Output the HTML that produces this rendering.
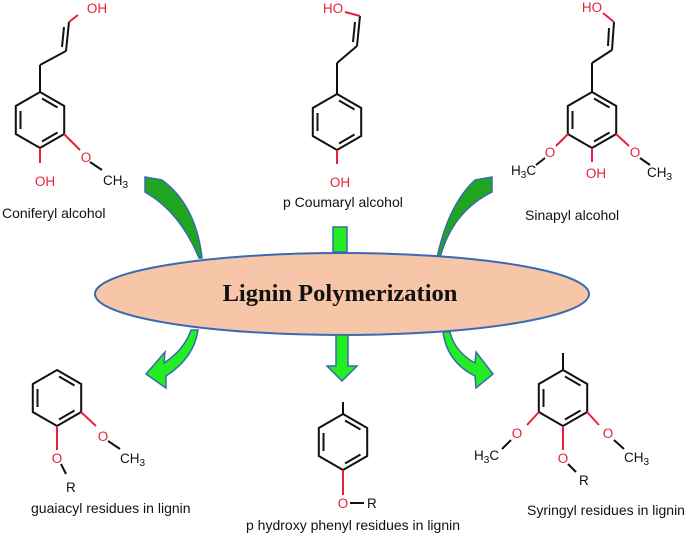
<!DOCTYPE html>
<html><head><meta charset="utf-8"><style>
html,body{margin:0;padding:0;background:#fff}
svg{display:block}
text{font-family:"Liberation Sans",Arial,sans-serif}
</style></head><body>
<svg width="685" height="542" viewBox="0 0 685 542" xmlns="http://www.w3.org/2000/svg">
<defs>
<g id="ring" fill="none" stroke="#111" stroke-width="2">
<polygon points="0,-28 24.2,-14 24.2,14 0,28 -24.2,14 -24.2,-14"/>
<line x1="-19.5" y1="-9" x2="-19.5" y2="9"/>
<line x1="2" y1="-21.5" x2="17.5" y2="-12.5"/>
<line x1="17.5" y1="12.5" x2="2" y2="21.5"/>
</g>
</defs>
<g stroke-width="2" fill="none" stroke="#111">
<use href="#ring" x="40" y="120"/>
<line x1="40" y1="92" x2="40" y2="65"/>
<line x1="40" y1="65" x2="66" y2="51"/>
<line x1="66" y1="51" x2="69" y2="22"/>
<line x1="62" y1="47" x2="64" y2="27"/>
<line x1="69" y1="22" x2="78" y2="15" stroke="#e8203a"/>
<line x1="40" y1="148" x2="40" y2="163" stroke="#e8203a"/>
<line x1="64" y1="134" x2="80" y2="150" stroke="#e8203a"/>
<line x1="90" y1="162" x2="102" y2="170"/>
<use href="#ring" x="337" y="122"/>
<line x1="337" y1="94" x2="337" y2="63"/>
<line x1="337" y1="63" x2="357" y2="46"/>
<line x1="357" y1="46" x2="360" y2="16"/>
<line x1="353" y1="42" x2="355" y2="22"/>
<line x1="360" y1="16" x2="345" y2="12" stroke="#e8203a"/>
<line x1="337" y1="150" x2="337" y2="164" stroke="#e8203a"/>
<use href="#ring" x="592" y="120"/>
<line x1="592" y1="92" x2="592" y2="63"/>
<line x1="592" y1="63" x2="612" y2="50"/>
<line x1="612" y1="50" x2="614" y2="22"/>
<line x1="608" y1="46" x2="609" y2="28"/>
<line x1="614" y1="22" x2="603" y2="13" stroke="#e8203a"/>
<line x1="592" y1="148" x2="592" y2="162" stroke="#e8203a"/>
<line x1="568" y1="134" x2="556" y2="146" stroke="#e8203a"/>
<line x1="545" y1="158" x2="536" y2="165"/>
<line x1="616" y1="134" x2="629" y2="146" stroke="#e8203a"/>
<line x1="640" y1="158" x2="650" y2="165"/>
<use href="#ring" x="57" y="398"/>
<line x1="57" y1="426" x2="57" y2="450" stroke="#e8203a"/>
<line x1="61" y1="464" x2="66" y2="474"/>
<line x1="81" y1="412" x2="96" y2="426" stroke="#e8203a"/>
<line x1="108" y1="441" x2="120" y2="449"/>
<use href="#ring" x="343" y="442"/>
<line x1="343" y1="402" x2="343" y2="414"/>
<line x1="343" y1="470" x2="343" y2="495" stroke="#e8203a"/>
<line x1="350" y1="503" x2="364" y2="503"/>
<use href="#ring" x="563" y="398"/>
<line x1="563" y1="353" x2="563" y2="370"/>
<line x1="563" y1="426" x2="563" y2="450" stroke="#e8203a"/>
<line x1="568" y1="464" x2="576" y2="472"/>
<line x1="539" y1="412" x2="527" y2="425" stroke="#e8203a"/>
<line x1="511" y1="440" x2="502" y2="449"/>
<line x1="587" y1="412" x2="599" y2="425" stroke="#e8203a"/>
<line x1="614" y1="440" x2="624" y2="449"/>
</g>
<g font-size="13.5" fill="#e8203a" text-anchor="middle">
<text x="97" y="13">OH</text>
<text x="45" y="186">OH</text>
<text x="86" y="162">O</text>
<text x="333" y="13">HO</text>
<text x="340" y="187">OH</text>
<text x="592" y="12">HO</text>
<text x="596" y="178">OH</text>
<text x="550" y="157">O</text>
<text x="635" y="157">O</text>
<text x="57" y="463">O</text>
<text x="103" y="441">O</text>
<text x="343" y="508">O</text>
<text x="563" y="463">O</text>
<text x="517" y="438">O</text>
<text x="608" y="438">O</text>
</g>
<g font-size="13.5" fill="#111">
<text x="103" y="185">CH<tspan font-size="10" dy="3">3</tspan></text>
<text x="511" y="175">H<tspan font-size="10" dy="3">3</tspan><tspan dy="-3">C</tspan></text>
<text x="647" y="177">CH<tspan font-size="10" dy="3">3</tspan></text>
<text x="120" y="463">CH<tspan font-size="10" dy="3">3</tspan></text>
<text x="66" y="492">R</text>
<text x="367" y="508">R</text>
<text x="579" y="485">R</text>
<text x="474" y="460">H<tspan font-size="10" dy="3">3</tspan><tspan dy="-3">C</tspan></text>
<text x="624" y="462">CH<tspan font-size="10" dy="3">3</tspan></text>
</g>
<g font-size="14" fill="#111">
<text x="2" y="218">Coniferyl alcohol</text>
<text x="283" y="207">p Coumaryl alcohol</text>
<text x="525" y="220">Sinapyl alcohol</text>
<text x="31" y="513">guaiacyl residues in lignin</text>
<text x="246" y="530">p hydroxy phenyl residues in lignin</text>
<text x="527" y="515">Syringyl residues in lignin</text>
</g>
<g stroke="#3a6ab0" stroke-width="1.5">
<path d="M145,177 L162,180 Q196,205 202,258 L199,258 Q180,212 145,192 Z" fill="#1fa51f"/>
<path d="M475,180 L492,177 L492,192 Q452,212 440,258 L437,258 Q448,205 475,180 Z" fill="#1fa51f"/>
<rect x="333" y="227" width="14" height="25" fill="#22ee22"/>
</g>
<ellipse cx="342" cy="294" rx="247" ry="41" fill="#f7c6a8" stroke="#3a6ab0" stroke-width="2"/>
<text x="340" y="301" text-anchor="middle" font-weight="bold" font-size="24.5" fill="#111" style="font-family:'Liberation Serif',serif">Lignin Polymerization</text>
<g stroke="#3a6ab0" stroke-width="1.5" fill="#22ee22">
<path d="M336,335 L348,335 L348,366 L357,366 L342,381 L327,366 L336,366 Z"/>
<path d="M191,330 L198,330 Q194,358 166,376 L166,388 L146,374 L165,352 L164,363 Q184,350 191,330 Z"/>
<path d="M443,332 L450,332 Q455,352 475,363 L476,352 L493,374 L476,388 L475,376 Q447,362 443,332 Z"/>
</g>
</svg>
</body></html>
